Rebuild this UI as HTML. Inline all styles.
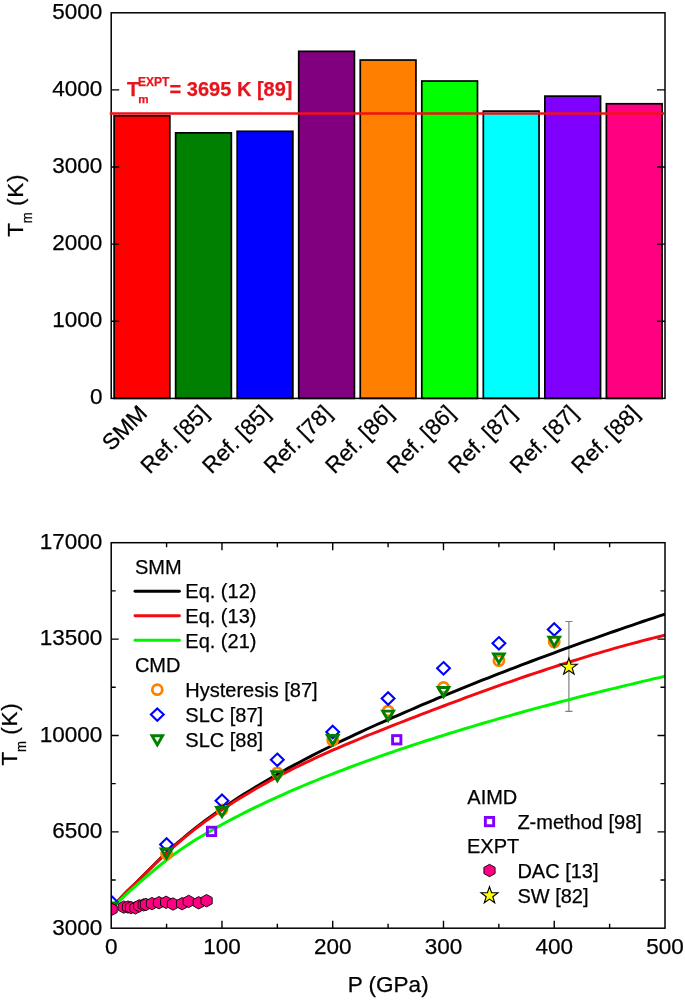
<!DOCTYPE html>
<html lang="en"><head><meta charset="utf-8"><title>Melting temperature charts</title>
<style>
html,body{margin:0;padding:0;background:#fff;}
body{width:685px;height:1000px;overflow:hidden;}
svg{display:block;}
text{font-family:"Liberation Sans", Arial, sans-serif;fill:#000;stroke:#000;stroke-width:0.25px;}
.t{font-size:22.5px;}
.l{font-size:20px;}
</style></head><body>
<svg width="685" height="1000" viewBox="0 0 685 1000">
<rect x="0" y="0" width="685" height="1000" fill="#fff"/>
<g id="chart1">
<rect x="114.12" y="115.72" width="55.70" height="282.68" fill="#ff0000" stroke="#000" stroke-width="1.7"/>
<rect x="175.65" y="132.84" width="55.70" height="265.56" fill="#008000" stroke="#000" stroke-width="1.7"/>
<rect x="237.18" y="131.30" width="55.70" height="267.10" fill="#0000ff" stroke="#000" stroke-width="1.7"/>
<rect x="298.72" y="51.33" width="55.70" height="347.07" fill="#800080" stroke="#000" stroke-width="1.7"/>
<rect x="360.25" y="60.04" width="55.70" height="338.36" fill="#ff8000" stroke="#000" stroke-width="1.7"/>
<rect x="421.78" y="81.02" width="55.70" height="317.38" fill="#00ff00" stroke="#000" stroke-width="1.7"/>
<rect x="483.32" y="111.10" width="55.70" height="287.30" fill="#00ffff" stroke="#000" stroke-width="1.7"/>
<rect x="544.85" y="96.14" width="55.70" height="302.26" fill="#8000ff" stroke="#000" stroke-width="1.7"/>
<rect x="606.38" y="103.77" width="55.70" height="294.63" fill="#ff0080" stroke="#000" stroke-width="1.7"/>
<rect x="111.2" y="12.8" width="553.80" height="385.60" fill="none" stroke="#000" stroke-width="1.5"/>
<text class="t" x="102.4" y="404.40" text-anchor="end">0</text>
<path d="M111.2 321.28h8M665.0 321.28h-8" stroke="#000" stroke-width="1.4" fill="none"/>
<text class="t" x="102.4" y="327.28" text-anchor="end">1000</text>
<path d="M111.2 244.16h8M665.0 244.16h-8" stroke="#000" stroke-width="1.4" fill="none"/>
<text class="t" x="102.4" y="250.16" text-anchor="end">2000</text>
<path d="M111.2 167.04h8M665.0 167.04h-8" stroke="#000" stroke-width="1.4" fill="none"/>
<text class="t" x="102.4" y="173.04" text-anchor="end">3000</text>
<path d="M111.2 89.92h8M665.0 89.92h-8" stroke="#000" stroke-width="1.4" fill="none"/>
<text class="t" x="102.4" y="95.92" text-anchor="end">4000</text>
<text class="t" x="102.4" y="18.80" text-anchor="end">5000</text>
<path d="M109.8 113.44H664" stroke="#f01018" stroke-width="2.6" fill="none"/>
<g font-weight="bold" style="fill:#e8141c;stroke:#e8141c">
<text x="127" y="96.3" style="font-size:20px;fill:#e8141c;stroke:#e8141c">T</text>
<text x="138" y="86.3" style="font-size:12px;fill:#e8141c;stroke:#e8141c">EXPT</text>
<text x="138.3" y="102.8" style="font-size:11.6px;fill:#e8141c;stroke:#e8141c">m</text>
<text x="169.6" y="96.3" style="font-size:20px;fill:#e8141c;stroke:#e8141c">= 3695 K [89]</text>
</g>
<text class="t" text-anchor="end" transform="translate(148.47 414.7) rotate(-45)">SMM</text>
<text class="t" text-anchor="end" transform="translate(210.00 414.7) rotate(-45)">Ref. [85]</text>
<text class="t" text-anchor="end" transform="translate(271.53 414.7) rotate(-45)">Ref. [85]</text>
<text class="t" text-anchor="end" transform="translate(333.07 414.7) rotate(-45)">Ref. [78]</text>
<text class="t" text-anchor="end" transform="translate(394.60 414.7) rotate(-45)">Ref. [86]</text>
<text class="t" text-anchor="end" transform="translate(456.13 414.7) rotate(-45)">Ref. [86]</text>
<text class="t" text-anchor="end" transform="translate(517.67 414.7) rotate(-45)">Ref. [87]</text>
<text class="t" text-anchor="end" transform="translate(579.20 414.7) rotate(-45)">Ref. [87]</text>
<text class="t" text-anchor="end" transform="translate(640.73 414.7) rotate(-45)">Ref. [88]</text>
<g transform="translate(23.2 236.8) rotate(-90)"><text class="t" x="0" y="0">T</text><text transform="translate(13.6 8.8) scale(0.88 1)" style="font-size:15px">m</text><text class="t" x="30.9" y="0" style="letter-spacing:0.7px">(K)</text></g>
</g>
<g id="chart2">
<clipPath id="c2"><rect x="111.2" y="542.7" width="553.80" height="385.50"/></clipPath>
<path d="M568.9 621.5V711.4M565.3 621.5h7.2M565.3 711.4h7.2" stroke="#808080" stroke-width="1.2" fill="none"/>
<g clip-path="url(#c2)" fill="none" stroke-width="2.95" stroke-linejoin="round">
<polyline points="111.2,909.1 116.7,902.5 122.3,896.3 127.8,890.5 133.4,885.2 138.9,879.9 144.4,874.4 150.0,868.7 155.5,863.2 161.0,857.9 166.6,852.7 172.1,847.6 177.7,842.7 183.2,838.0 188.7,833.4 194.3,828.9 199.8,824.6 205.3,820.4 210.9,816.4 216.4,812.5 222.0,808.6 227.5,804.9 233.0,801.2 238.6,797.6 244.1,794.1 249.6,790.7 255.2,787.3 260.7,784.0 266.3,780.7 271.8,777.5 277.3,774.3 282.9,771.2 288.4,768.1 294.0,765.1 299.5,762.2 305.0,759.2 310.6,756.4 316.1,753.5 321.6,750.7 327.2,748.0 332.7,745.2 338.3,742.5 343.8,739.9 349.3,737.3 354.9,734.7 360.4,732.1 365.9,729.5 371.5,727.0 377.0,724.5 382.6,722.1 388.1,719.6 393.6,717.2 399.2,714.8 404.7,712.3 410.3,710.0 415.8,707.6 421.3,705.2 426.9,702.9 432.4,700.6 437.9,698.2 443.5,696.0 449.0,693.7 454.6,691.4 460.1,689.1 465.6,686.9 471.2,684.7 476.7,682.4 482.2,680.2 487.8,678.1 493.3,675.9 498.9,673.7 504.4,671.6 509.9,669.4 515.5,667.3 521.0,665.2 526.5,663.1 532.1,661.0 537.6,658.9 543.2,656.8 548.7,654.8 554.2,652.8 559.8,650.7 565.3,648.7 570.9,646.7 576.4,644.7 581.9,642.7 587.5,640.7 593.0,638.8 598.5,636.8 604.1,634.9 609.6,632.9 615.2,631.0 620.7,629.1 626.2,627.2 631.8,625.3 637.3,623.4 642.8,621.5 648.4,619.6 653.9,617.8 659.5,615.9 665.0,614.1" stroke="#000000"/>
<polyline points="111.2,909.1 116.7,902.5 122.3,896.3 127.8,890.6 133.4,885.3 138.9,880.1 144.4,874.5 150.0,868.9 155.5,863.5 161.0,858.2 166.6,853.1 172.1,848.1 177.7,843.3 183.2,838.6 188.7,834.1 194.3,829.7 199.8,825.5 205.3,821.4 210.9,817.5 216.4,813.6 222.0,809.8 227.5,806.2 233.0,802.6 238.6,799.1 244.1,795.7 249.6,792.4 255.2,789.1 260.7,786.0 266.3,782.9 271.8,779.8 277.3,776.9 282.9,774.0 288.4,771.1 294.0,768.3 299.5,765.6 305.0,762.9 310.6,760.3 316.1,757.7 321.6,755.2 327.2,752.7 332.7,750.2 338.3,747.8 343.8,745.4 349.3,743.1 354.9,740.8 360.4,738.5 365.9,736.2 371.5,734.0 377.0,731.8 382.6,729.6 388.1,727.4 393.6,725.2 399.2,723.0 404.7,720.9 410.3,718.7 415.8,716.6 421.3,714.4 426.9,712.3 432.4,710.2 437.9,708.1 443.5,706.0 449.0,703.9 454.6,701.8 460.1,699.8 465.6,697.7 471.2,695.7 476.7,693.6 482.2,691.6 487.8,689.6 493.3,687.6 498.9,685.7 504.4,683.7 509.9,681.8 515.5,679.8 521.0,677.9 526.5,676.0 532.1,674.2 537.6,672.3 543.2,670.5 548.7,668.6 554.2,666.8 559.8,665.0 565.3,663.3 570.9,661.5 576.4,659.8 581.9,658.1 587.5,656.4 593.0,654.7 598.5,653.1 604.1,651.4 609.6,649.8 615.2,648.2 620.7,646.7 626.2,645.2 631.8,643.6 637.3,642.2 642.8,640.7 648.4,639.3 653.9,637.9 659.5,636.5 665.0,635.1" stroke="#f20a10"/>
<polyline points="111.2,909.1 116.7,903.5 122.3,898.1 127.8,892.9 133.4,887.9 138.9,883.1 144.4,878.4 150.0,873.6 155.5,869.0 161.0,864.5 166.6,860.1 172.1,855.8 177.7,851.7 183.2,847.9 188.7,844.2 194.3,840.6 199.8,837.2 205.3,833.9 210.9,830.7 216.4,827.6 222.0,824.5 227.5,821.5 233.0,818.6 238.6,815.7 244.1,812.9 249.6,810.1 255.2,807.4 260.7,804.8 266.3,802.2 271.8,799.6 277.3,797.1 282.9,794.6 288.4,792.1 294.0,789.7 299.5,787.4 305.0,785.0 310.6,782.7 316.1,780.5 321.6,778.2 327.2,776.0 332.7,773.8 338.3,771.7 343.8,769.6 349.3,767.5 354.9,765.4 360.4,763.3 365.9,761.3 371.5,759.3 377.0,757.4 382.6,755.4 388.1,753.5 393.6,751.6 399.2,749.7 404.7,747.8 410.3,746.0 415.8,744.1 421.3,742.3 426.9,740.5 432.4,738.8 437.9,737.0 443.5,735.3 449.0,733.5 454.6,731.8 460.1,730.1 465.6,728.5 471.2,726.8 476.7,725.1 482.2,723.5 487.8,721.9 493.3,720.3 498.9,718.7 504.4,717.1 509.9,715.6 515.5,714.0 521.0,712.5 526.5,710.9 532.1,709.4 537.6,707.9 543.2,706.4 548.7,705.0 554.2,703.5 559.8,702.0 565.3,700.6 570.9,699.2 576.4,697.7 581.9,696.3 587.5,694.9 593.0,693.5 598.5,692.1 604.1,690.8 609.6,689.4 615.2,688.1 620.7,686.7 626.2,685.4 631.8,684.1 637.3,682.7 642.8,681.4 648.4,680.1 653.9,678.8 659.5,677.6 665.0,676.3" stroke="#00f500"/>
</g>
<g clip-path="url(#c2)">
<circle cx="166.6" cy="854.0" r="5" fill="none" stroke="#ff8000" stroke-width="2.8"/>
<circle cx="222.0" cy="809.8" r="5" fill="none" stroke="#ff8000" stroke-width="2.8"/>
<circle cx="277.3" cy="772.9" r="5" fill="none" stroke="#ff8000" stroke-width="2.8"/>
<circle cx="332.7" cy="740.2" r="5" fill="none" stroke="#ff8000" stroke-width="2.8"/>
<circle cx="388.1" cy="711.0" r="5" fill="none" stroke="#ff8000" stroke-width="2.8"/>
<circle cx="443.5" cy="687.4" r="5" fill="none" stroke="#ff8000" stroke-width="2.8"/>
<circle cx="498.9" cy="660.6" r="5" fill="none" stroke="#ff8000" stroke-width="2.8"/>
<circle cx="554.2" cy="642.0" r="5" fill="none" stroke="#ff8000" stroke-width="2.8"/>
<path d="M111.2 895.8l6.4 6.2l-6.4 6.2l-6.4-6.2z" fill="none" stroke="#0000ff" stroke-width="2.1"/>
<path d="M166.6 838.3l6.4 6.2l-6.4 6.2l-6.4-6.2z" fill="none" stroke="#0000ff" stroke-width="2.1"/>
<path d="M222.0 794.5l6.4 6.2l-6.4 6.2l-6.4-6.2z" fill="none" stroke="#0000ff" stroke-width="2.1"/>
<path d="M277.3 753.6l6.4 6.2l-6.4 6.2l-6.4-6.2z" fill="none" stroke="#0000ff" stroke-width="2.1"/>
<path d="M332.7 725.8l6.4 6.2l-6.4 6.2l-6.4-6.2z" fill="none" stroke="#0000ff" stroke-width="2.1"/>
<path d="M388.1 692.3l6.4 6.2l-6.4 6.2l-6.4-6.2z" fill="none" stroke="#0000ff" stroke-width="2.1"/>
<path d="M443.5 662.1l6.4 6.2l-6.4 6.2l-6.4-6.2z" fill="none" stroke="#0000ff" stroke-width="2.1"/>
<path d="M498.9 637.1l6.4 6.2l-6.4 6.2l-6.4-6.2z" fill="none" stroke="#0000ff" stroke-width="2.1"/>
<path d="M554.2 623.2l6.4 6.2l-6.4 6.2l-6.4-6.2z" fill="none" stroke="#0000ff" stroke-width="2.1"/>
<path d="M105.90 902.85h10.6l-5.3 9.1z" fill="none" stroke="#008000" stroke-width="2.9" stroke-linejoin="miter"/>
<path d="M161.28 849.04h10.6l-5.3 9.1z" fill="none" stroke="#008000" stroke-width="2.9" stroke-linejoin="miter"/>
<path d="M216.66 807.36h10.6l-5.3 9.1z" fill="none" stroke="#008000" stroke-width="2.9" stroke-linejoin="miter"/>
<path d="M272.04 771.59h10.6l-5.3 9.1z" fill="none" stroke="#008000" stroke-width="2.9" stroke-linejoin="miter"/>
<path d="M327.42 735.38h10.6l-5.3 9.1z" fill="none" stroke="#008000" stroke-width="2.9" stroke-linejoin="miter"/>
<path d="M382.80 711.15h10.6l-5.3 9.1z" fill="none" stroke="#008000" stroke-width="2.9" stroke-linejoin="miter"/>
<path d="M438.18 687.49h10.6l-5.3 9.1z" fill="none" stroke="#008000" stroke-width="2.9" stroke-linejoin="miter"/>
<path d="M493.56 653.87h10.6l-5.3 9.1z" fill="none" stroke="#008000" stroke-width="2.9" stroke-linejoin="miter"/>
<path d="M548.94 637.13h10.6l-5.3 9.1z" fill="none" stroke="#008000" stroke-width="2.9" stroke-linejoin="miter"/>
<rect x="207.40" y="827.26" width="8.3" height="8.3" fill="none" stroke="#8000ff" stroke-width="2.9"/>
<rect x="392.59" y="735.62" width="8.3" height="8.3" fill="none" stroke="#8000ff" stroke-width="2.9"/>
<path d="M111.6 903.1l5.6 3.1v6.2l-5.6 3.1l-5.6 -3.1v-6.2z" fill="#ff0080" stroke="#000" stroke-width="0.9"/>
<path d="M123.8 900.9l5.6 3.1v6.2l-5.6 3.1l-5.6 -3.1v-6.2z" fill="#ff0080" stroke="#000" stroke-width="0.9"/>
<path d="M128.0 900.8l5.6 3.1v6.2l-5.6 3.1l-5.6 -3.1v-6.2z" fill="#ff0080" stroke="#000" stroke-width="0.9"/>
<path d="M131.0 901.4l5.6 3.1v6.2l-5.6 3.1l-5.6 -3.1v-6.2z" fill="#ff0080" stroke="#000" stroke-width="0.9"/>
<path d="M135.4 901.7l5.6 3.1v6.2l-5.6 3.1l-5.6 -3.1v-6.2z" fill="#ff0080" stroke="#000" stroke-width="0.9"/>
<path d="M139.3 899.6l5.6 3.1v6.2l-5.6 3.1l-5.6 -3.1v-6.2z" fill="#ff0080" stroke="#000" stroke-width="0.9"/>
<path d="M143.7 898.7l5.6 3.1v6.2l-5.6 3.1l-5.6 -3.1v-6.2z" fill="#ff0080" stroke="#000" stroke-width="0.9"/>
<path d="M145.9 898.3l5.6 3.1v6.2l-5.6 3.1l-5.6 -3.1v-6.2z" fill="#ff0080" stroke="#000" stroke-width="0.9"/>
<path d="M152.0 897.4l5.6 3.1v6.2l-5.6 3.1l-5.6 -3.1v-6.2z" fill="#ff0080" stroke="#000" stroke-width="0.9"/>
<path d="M159.0 896.5l5.6 3.1v6.2l-5.6 3.1l-5.6 -3.1v-6.2z" fill="#ff0080" stroke="#000" stroke-width="0.9"/>
<path d="M166.1 896.1l5.6 3.1v6.2l-5.6 3.1l-5.6 -3.1v-6.2z" fill="#ff0080" stroke="#000" stroke-width="0.9"/>
<path d="M173.0 897.8l5.6 3.1v6.2l-5.6 3.1l-5.6 -3.1v-6.2z" fill="#ff0080" stroke="#000" stroke-width="0.9"/>
<path d="M182.1 897.5l5.6 3.1v6.2l-5.6 3.1l-5.6 -3.1v-6.2z" fill="#ff0080" stroke="#000" stroke-width="0.9"/>
<path d="M188.7 895.2l5.6 3.1v6.2l-5.6 3.1l-5.6 -3.1v-6.2z" fill="#ff0080" stroke="#000" stroke-width="0.9"/>
<path d="M198.7 896.6l5.6 3.1v6.2l-5.6 3.1l-5.6 -3.1v-6.2z" fill="#ff0080" stroke="#000" stroke-width="0.9"/>
<path d="M206.6 894.5l5.6 3.1v6.2l-5.6 3.1l-5.6 -3.1v-6.2z" fill="#ff0080" stroke="#000" stroke-width="0.9"/>
<polygon points="568.9,658.1 570.9,664.2 577.3,664.2 572.2,668.1 574.1,674.2 568.9,670.5 563.6,674.2 565.5,668.1 560.4,664.2 566.8,664.2" fill="#ffff00" stroke="#000" stroke-width="1.1"/>
</g>
<rect x="111.2" y="542.7" width="553.80" height="385.50" fill="none" stroke="#000" stroke-width="1.5"/>
<text class="t" x="102.4" y="934.60" text-anchor="end">3000</text>
<text class="t" x="102.4" y="838.23" text-anchor="end">6500</text>
<text class="t" x="102.4" y="741.85" text-anchor="end">10000</text>
<text class="t" x="102.4" y="645.48" text-anchor="end">13500</text>
<text class="t" x="102.4" y="549.10" text-anchor="end">17000</text>
<text class="t" x="111.20" y="954.4" text-anchor="middle">0</text>
<text class="t" x="221.96" y="954.4" text-anchor="middle">100</text>
<text class="t" x="332.72" y="954.4" text-anchor="middle">200</text>
<text class="t" x="443.48" y="954.4" text-anchor="middle">300</text>
<text class="t" x="554.24" y="954.4" text-anchor="middle">400</text>
<text class="t" x="665.00" y="954.4" text-anchor="middle">500</text>
<path d="M111.2 880.01h4.5M665.0 880.01h-4.5M111.2 831.83h7.5M665.0 831.83h-7.5M111.2 783.64h4.5M665.0 783.64h-4.5M111.2 735.45h7.5M665.0 735.45h-7.5M111.2 687.26h4.5M665.0 687.26h-4.5M111.2 639.08h7.5M665.0 639.08h-7.5M111.2 590.89h4.5M665.0 590.89h-4.5M166.58 928.2v-4.5M166.58 542.7v4.5M221.96 928.2v-7.5M221.96 542.7v7.5M277.34 928.2v-4.5M277.34 542.7v4.5M332.72 928.2v-7.5M332.72 542.7v7.5M388.10 928.2v-4.5M388.10 542.7v4.5M443.48 928.2v-7.5M443.48 542.7v7.5M498.86 928.2v-4.5M498.86 542.7v4.5M554.24 928.2v-7.5M554.24 542.7v7.5M609.62 928.2v-4.5M609.62 542.7v4.5" stroke="#000" stroke-width="1.4" fill="none"/>
<text class="t" x="388.2" y="992" text-anchor="middle">P (GPa)</text>
<g transform="translate(17.0 765.6) rotate(-90)"><text class="t" x="0" y="0">T</text><text transform="translate(13.6 8.8) scale(0.88 1)" style="font-size:15px">m</text><text class="t" x="30.9" y="0" style="letter-spacing:0.7px">(K)</text></g>
<text class="l" x="134.9" y="574.0">SMM</text>
<path d="M135 591.2H179.4" stroke="#000" stroke-width="2.9" stroke-linecap="round"/>
<text class="l" x="185.3" y="598.4">Eq. (12)</text>
<path d="M135 615.8H179.4" stroke="#f20a10" stroke-width="2.9" stroke-linecap="round"/>
<text class="l" x="185.3" y="623.0">Eq. (13)</text>
<path d="M135 640.3H179.4" stroke="#00f500" stroke-width="2.9" stroke-linecap="round"/>
<text class="l" x="185.3" y="647.5">Eq. (21)</text>
<text class="l" x="134.9" y="672.1">CMD</text>
<circle cx="157.3" cy="689.7" r="5" fill="none" stroke="#ff8000" stroke-width="2.8"/>
<text class="l" x="185.3" y="697.2">Hysteresis [87]</text>
<path d="M157.3 708.4l6.4 6.2l-6.4 6.2l-6.4-6.2z" fill="none" stroke="#0000ff" stroke-width="2.1"/>
<text class="l" x="185.3" y="722.1">SLC [87]</text>
<path d="M152.00 735.80h10.6l-5.3 9.1z" fill="none" stroke="#008000" stroke-width="2.9" stroke-linejoin="miter"/>
<text class="l" x="185.3" y="746.7">SLC [88]</text>
<text class="l" x="467.3" y="804.3">AIMD</text>
<rect x="485.35" y="817.45" width="8.3" height="8.3" fill="none" stroke="#8000ff" stroke-width="2.9"/>
<text class="l" x="517.4" y="829.1">Z-method [98]</text>
<text class="l" x="467" y="853.2">EXPT</text>
<path d="M489.5 864.3l5.6 3.1v6.2l-5.6 3.1l-5.6 -3.1v-6.2z" fill="#ff0080" stroke="#000" stroke-width="0.9"/>
<text class="l" x="517.4" y="878.0">DAC [13]</text>
<polygon points="489.5,886.7 491.6,892.8 498.0,892.8 492.8,896.7 494.7,902.8 489.5,899.1 484.3,902.8 486.2,896.7 481.0,892.8 487.4,892.8" fill="#ffff00" stroke="#000" stroke-width="1.1"/>
<text class="l" x="517.4" y="902.8">SW [82]</text>
</g>
</svg></body></html>
